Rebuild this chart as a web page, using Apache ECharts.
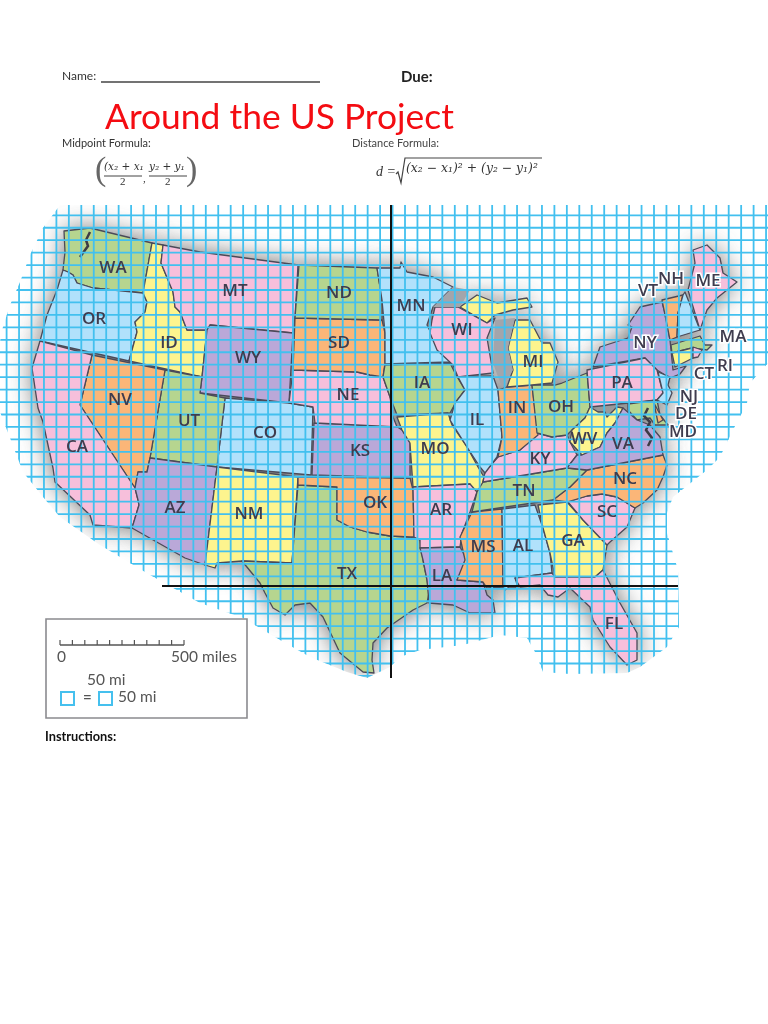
<!DOCTYPE html>
<html>
<head>
<meta charset="utf-8">
<title>Around the US Project</title>
<style>
  html, body { margin: 0; padding: 0; background: #fff; }
  #chart { width: 768px; height: 1024px; }
</style>
<script src="https://cdn.jsdelivr.net/npm/echarts@6/dist/echarts.min.js"></script>
</head>
<body>
<div id="chart"></div>
<script>
'use strict';

// palette of the printed map
var PINK = '#f7bfdb', GREEN = '#b6d58f', BLUE = '#b1e1fb', YELLOW = '#fdf48e', ORANGE = '#fbb678', PURPLE = '#baa8d8';

// state names, fills and label anchors
var stateNames = ['WA','OR','ID','MT','WY','CO','UT','NV','CA','AZ','NM','TX','OK','KS','NE','SD','ND','MN','IA','MO','AR','LA','MS','AL','GA','FL','SC','NC','TN','KY','IL','IN','OH','MI','UP','WI','NY','PA','NJ','VT','NH','ME','MA','CT','RI','MD','DE','WV','VA'];
var stateFills = [GREEN,BLUE,YELLOW,PINK,PURPLE,BLUE,GREEN,ORANGE,PINK,PURPLE,YELLOW,GREEN,ORANGE,PURPLE,PINK,ORANGE,GREEN,BLUE,GREEN,YELLOW,PINK,PURPLE,ORANGE,BLUE,YELLOW,PINK,PINK,ORANGE,GREEN,PINK,BLUE,ORANGE,GREEN,YELLOW,YELLOW,PINK,PURPLE,PINK,BLUE,ORANGE,BLUE,PINK,GREEN,YELLOW,PINK,GREEN,ORANGE,YELLOW,PURPLE];

// outlines, in page pixels
var outlines = {
  WA: [[64,231],[90,228],[152,243],[143,293],[113,290],[93,288],[77,283],[73,275],[68,272],[63,270],[65,252]],
  OR: [[63,270],[68,272],[73,275],[77,283],[93,288],[113,290],[143,293],[147,302],[145,312],[135,322],[137,332],[129,361],[40,341],[47,315],[57,290]],
  ID: [[152,243],[163,245],[161,263],[173,292],[175,307],[180,312],[187,330],[207,330],[202,377],[129,361],[137,332],[135,322],[145,312],[147,302],[143,293]],
  MT: [[163,245],[200,252],[298,265],[295,318],[293,333],[210,325],[207,330],[187,330],[180,312],[175,307],[173,292],[161,263]],
  WY: [[210,325],[293,333],[289,403],[200,393],[202,377],[207,330]],
  CO: [[225,398],[289,403],[313,407],[311,475],[217,467]],
  UT: [[165,370],[202,377],[200,393],[225,398],[217,467],[150,458]],
  NV: [[92,355],[165,370],[150,458],[147,472],[138,472],[135,488],[80,405]],
  CA: [[40,341],[92,355],[80,405],[135,488],[138,500],[139,505],[132,528],[93,525],[90,515],[55,482],[53,468],[43,422],[38,408],[32,368]],
  AZ: [[150,458],[217,467],[205,565],[185,558],[132,528],[139,505],[138,500],[135,488],[138,472],[147,472]],
  NM: [[217,467],[298,477],[292,563],[242,561],[217,563],[215,568],[205,565]],
  TX: [[298,485],[337,487],[337,520],[350,527],[367,532],[390,536],[410,537],[420,540],[423,560],[427,580],[429,593],[427,603],[413,610],[387,628],[373,643],[372,660],[374,673],[363,672],[340,653],[323,617],[310,603],[295,605],[285,615],[273,608],[265,593],[260,583],[242,561],[292,563]],
  OK: [[298,477],[410,478],[413,490],[414,537],[410,537],[390,536],[367,532],[350,527],[337,520],[337,487],[298,485]],
  KS: [[314,423],[396,426],[402,430],[410,443],[410,478],[312,475]],
  NE: [[293,370],[357,372],[370,375],[383,377],[390,397],[393,417],[397,427],[315,423],[313,407],[289,403]],
  SD: [[295,318],[382,320],[385,333],[385,363],[383,377],[370,375],[357,372],[293,370]],
  ND: [[299,265],[377,268],[382,300],[382,320],[295,318]],
  MN: [[377,268],[400,268],[401,262],[407,272],[433,277],[453,287],[433,307],[427,325],[433,337],[447,353],[450,362],[385,364],[385,333],[382,300]],
  IA: [[385,365],[450,363],[456,375],[465,390],[456,402],[450,413],[397,415],[390,397],[383,377]],
  MO: [[397,417],[448,413],[452,425],[467,447],[478,467],[484,477],[481,490],[474,492],[470,484],[413,487],[410,443],[402,430]],
  AR: [[413,487],[470,484],[477,492],[470,512],[462,533],[460,547],[420,548],[420,540],[414,537]],
  LA: [[420,548],[460,547],[467,560],[457,580],[483,582],[487,595],[493,600],[495,613],[470,613],[453,605],[429,603],[427,580],[423,560]],
  MS: [[472,512],[502,509],[503,587],[487,588],[483,582],[457,580],[465,560],[460,537]],
  AL: [[502,509],[535,505],[543,528],[550,553],[552,573],[515,578],[518,587],[509,587],[505,590],[503,587]],
  GA: [[538,505],[567,502],[583,520],[607,545],[603,570],[595,577],[555,577],[550,553],[543,528]],
  FL: [[515,578],[552,573],[555,577],[595,577],[603,570],[620,603],[637,633],[637,660],[627,665],[610,647],[593,620],[590,607],[570,588],[558,597],[548,595],[540,585],[520,587]],
  SC: [[568,502],[587,496],[602,494],[617,497],[635,508],[627,527],[610,542],[607,545],[583,520]],
  NC: [[587,470],[663,455],[667,465],[663,477],[657,490],[643,503],[635,508],[617,497],[602,494],[587,496],[567,502],[553,500],[570,487]],
  TN: [[483,482],[567,468],[587,470],[570,487],[553,500],[472,512],[477,492]],
  KY: [[485,472],[498,457],[520,450],[537,433],[552,437],[567,435],[570,442],[577,455],[567,468],[483,482]],
  IL: [[458,377],[493,376],[498,390],[502,437],[497,457],[485,473],[480,467],[467,447],[450,420],[455,403],[465,390]],
  IN: [[498,390],[507,387],[532,385],[538,435],[520,450],[498,457],[502,437]],
  OH: [[532,385],[555,385],[562,383],[587,373],[590,407],[585,418],[572,430],[567,435],[552,437],[537,433]],
  MI: [[508,348],[515,320],[530,320],[542,343],[550,343],[558,362],[552,383],[532,385],[507,387],[513,370]],
  UP: [[460,307],[477,295],[497,303],[527,298],[532,307],[513,310],[495,315],[487,323]],
  WI: [[432,320],[435,307],[458,307],[487,323],[495,318],[487,338],[493,373],[458,377],[453,365],[437,350],[430,333]],
  NY: [[662,302],[665,313],[670,340],[673,370],[686,366],[680,374],[670,378],[657,370],[645,358],[593,367],[600,347],[628,338],[632,327],[628,325],[640,307]],
  PA: [[587,370],[645,358],[657,370],[663,393],[657,400],[590,407]],
  NJ: [[658,372],[670,377],[668,385],[672,393],[667,405],[657,400],[663,393]],
  VT: [[662,300],[683,295],[678,313],[677,337],[670,340]],
  NH: [[683,295],[685,292],[700,330],[677,337],[678,313]],
  ME: [[693,250],[707,245],[720,258],[723,273],[737,282],[717,298],[707,310],[700,330],[688,290],[695,263]],
  MA: [[671,345],[700,336],[705,345],[712,345],[707,350],[692,348],[672,353]],
  CT: [[672,353],[692,348],[693,358],[675,367]],
  RI: [[693,347],[702,350],[698,357],[693,358]],
  MD: [[628,404],[657,400],[660,415],[668,425],[655,425],[650,418],[637,420],[628,410]],
  DE: [[654,403],[663,420],[658,423]],
  WV: [[590,407],[585,418],[572,430],[570,442],[582,455],[600,447],[607,433],[615,423],[623,408],[617,407],[607,417],[605,412],[598,412]],
  VA: [[567,468],[577,455],[582,455],[600,447],[607,433],[615,423],[623,408],[637,420],[650,425],[660,437],[663,455],[587,470]]
};

var lakeOutlines = [
  [[495,320],[493,363],[502,388],[513,370],[508,348],[515,318]],
  [[433,307],[453,287],[470,290],[460,307]]
];

// coastline squiggles: Puget Sound, Chesapeake Bay
var coastMarks = [
  [[90,232],[86,240],[88,246],[80,257]],
  [[648,408],[644,416],[650,422],[646,430],[652,438],[648,446]]
];

// torn edge of the grid paper
var paperEdge = [[60,205],[768,205],[768,248],[768,363],[750,383],[747,403],[733,430],[720,457],[707,470],[673,497],[667,513],[667,533],[678,570],[679,627],[667,647],[640,667],[627,673],[570,674],[543,672],[535,652],[527,638],[500,635],[463,645],[420,650],[400,657],[390,667],[367,678],[347,672],[310,657],[280,640],[243,618],[200,603],[150,575],[100,545],[60,517],[43,497],[23,472],[10,438],[0,412],[0,342],[2,330],[10,305],[20,282],[30,255],[43,228]];

var labelNames = ['WA','OR','ID','MT','WY','NV','UT','CO','CA','AZ','NM','TX','ND','SD','NE','KS','OK','MN','IA','MO','AR','LA','WI','IL','MI','IN','OH','KY','TN','MS','AL','GA','SC','NC','FL','VA','WV','PA','NY','VT','NH','ME','MA','RI','CT','NJ','DE','MD'];
var labelX = [113,94,169,235,248,120,189,265,77,175,249,347,339,339,348,360,375,411,422,435,441,442,462,477,533,517,561,540,524,483,523,573,607,625,614,623,584,622,645,648,671,708,733,725,704,689,686,683];
var labelY = [268,319,343,291,358,400,421,433,447,508,514,574,293,343,395,451,503,306,383,449,510,576,330,420,362,408,407,459,491,547,546,541,512,479,624,444,439,383,343,291,279,281,337,366,374,397,414,432];

var gridStep = 12.45, gridStartX = 6.6, gridStartY = 215.3;
var gridXs = [], gridYs = [];
for (var gx = gridStartX; gx < 768; gx += gridStep) gridXs.push(gx);
for (var gy = gridStartY; gy < 680; gy += gridStep) gridYs.push(gy);

var axisX = 391, axisY = 586;
var scaleTicks = [0,50,100,150,200,250,300,350,400,450,500];

var chart = echarts.init(document.getElementById('chart'));

function toPts(api, pts) {
  return pts.map(function (p) { return api.coord(p); });
}

function paperClip(api) {
  return { type: 'polygon', shape: { points: toPts(api, paperEdge) } };
}

var labelFont = '"Open Sans", sans-serif';
var gridStyle = { stroke: '#42c0ef', lineWidth: 1.8 };

chart.setOption({
  animation: false,
  backgroundColor: '#fff',
  grid: { left: 0, right: 0, top: 0, bottom: 0 },
  xAxis: { type: 'value', min: 0, max: 768, show: false },
  yAxis: { type: 'value', min: 0, max: 1024, inverse: true, show: false },
  series: [
    // soft shadow under the whole country
    {
      type: 'custom', coordinateSystem: 'cartesian2d', clip: false, silent: true, z: 1,
      data: stateNames,
      renderItem: function (params, api) {
        return {
          type: 'polygon',
          shape: { points: toPts(api, outlines[stateNames[params.dataIndex]]) },
          style: { fill: '#aaa', shadowBlur: 26, shadowColor: 'rgba(70,70,70,0.8)' },
          clipPath: paperClip(api)
        };
      }
    },
    // states
    {
      type: 'custom', coordinateSystem: 'cartesian2d', clip: false, silent: true, z: 2,
      data: stateNames,
      renderItem: function (params, api) {
        return {
          type: 'polygon',
          shape: { points: toPts(api, outlines[stateNames[params.dataIndex]]) },
          style: { fill: stateFills[params.dataIndex], stroke: '#4b4a58', lineWidth: 1.3, lineJoin: 'round' }
        };
      }
    },
    // great lakes
    {
      type: 'custom', coordinateSystem: 'cartesian2d', clip: false, silent: true, z: 3,
      data: lakeOutlines.map(function (l, i) { return i; }),
      renderItem: function (params, api) {
        return {
          type: 'polygon',
          shape: { points: toPts(api, lakeOutlines[params.dataIndex]) },
          style: { fill: '#a3a5ab' }
        };
      }
    },
    {
      type: 'custom', coordinateSystem: 'cartesian2d', clip: false, silent: true, z: 4,
      data: coastMarks.map(function (l, i) { return i; }),
      renderItem: function (params, api) {
        return {
          type: 'polyline',
          shape: { points: toPts(api, coastMarks[params.dataIndex]) },
          style: { fill: 'none', stroke: '#3c3b46', lineWidth: 2.5 }
        };
      }
    },
    // blue grid, cut to the torn paper
    {
      type: 'custom', coordinateSystem: 'cartesian2d', clip: false, silent: true, z: 5,
      data: gridXs,
      renderItem: function (params, api) {
        var a = api.coord([gridXs[params.dataIndex], 205]), b = api.coord([gridXs[params.dataIndex], 680]);
        return {
          type: 'line',
          shape: { x1: a[0], y1: a[1], x2: b[0], y2: b[1] },
          style: gridStyle,
          clipPath: paperClip(api)
        };
      }
    },
    {
      type: 'custom', coordinateSystem: 'cartesian2d', clip: false, silent: true, z: 5,
      data: gridYs,
      renderItem: function (params, api) {
        var a = api.coord([0, gridYs[params.dataIndex]]), b = api.coord([768, gridYs[params.dataIndex]]);
        return {
          type: 'line',
          shape: { x1: a[0], y1: a[1], x2: b[0], y2: b[1] },
          style: gridStyle,
          clipPath: paperClip(api)
        };
      }
    },
    // the two black axes
    {
      type: 'line', coordinateSystem: 'cartesian2d', silent: true, z: 6, symbol: 'none',
      lineStyle: { color: '#111', width: 2 },
      data: [[axisX, 205], [axisX, 678]]
    },
    {
      type: 'line', coordinateSystem: 'cartesian2d', silent: true, z: 6, symbol: 'none',
      lineStyle: { color: '#111', width: 2 },
      data: [[162, axisY], [678, axisY]]
    },
    // state abbreviations
    {
      type: 'custom', coordinateSystem: 'cartesian2d', clip: false, silent: true, z: 7,
      data: labelNames,
      renderItem: function (params, api) {
        var i = params.dataIndex, p = api.coord([labelX[i], labelY[i]]);
        var northeast = labelY[i] < 440 && labelX[i] > 640;
        return {
          type: 'text',
          x: p[0], y: p[1],
          style: {
            text: labelNames[i],
            fill: '#3f3c4e',
            font: '600 17px ' + labelFont,
            align: 'center', verticalAlign: 'middle',
            stroke: northeast ? '#fff' : null,
            lineWidth: northeast ? 3 : 0
          }
        };
      }
    }
  ],
  graphic: [
    { type: 'text', left: 62, top: 70, style: { text: 'Name:', fill: '#333', font: '12px Lato, sans-serif' } },
    { type: 'line', shape: { x1: 101, y1: 82, x2: 320, y2: 82 }, style: { stroke: '#444', lineWidth: 1.6 } },
    { type: 'text', left: 401, top: 70, style: { text: 'Due:', fill: '#222', font: 'bold 15px Lato, sans-serif' } },
    { type: 'text', left: 105, top: 100, style: { text: 'Around the US Project', fill: '#f40c12', font: '35.4px Lato, sans-serif' } },
    { type: 'text', left: 62, top: 138, style: { text: 'Midpoint Formula:', fill: '#333', font: '11px Lato, sans-serif' } },
    { type: 'text', left: 352, top: 138, style: { text: 'Distance Formula:', fill: '#444', font: '11px Lato, sans-serif' } },
    { type: 'text', left: 95, top: 154, style: { text: '(', fill: '#666', font: '34px "Liberation Serif", serif' } },
    { type: 'text', left: 186, top: 154, style: { text: ')', fill: '#666', font: '34px "Liberation Serif", serif' } },
    { type: 'text', left: 104, top: 162, style: { text: '(x\u2082 + x\u2081', fill: '#333', font: 'italic 10.5px "DejaVu Serif", serif' } },
    { type: 'line', shape: { x1: 104, y1: 176, x2: 142, y2: 176 }, style: { stroke: '#444', lineWidth: 1 } },
    { type: 'text', left: 120, top: 177, style: { text: '2', fill: '#333', font: '11px "Liberation Serif", serif' } },
    { type: 'text', left: 143, top: 174, style: { text: ',', fill: '#333', font: '11px "Liberation Serif", serif' } },
    { type: 'text', left: 149, top: 162, style: { text: 'y\u2082 + y\u2081', fill: '#333', font: 'italic 10.5px "DejaVu Serif", serif' } },
    { type: 'line', shape: { x1: 149, y1: 176, x2: 187, y2: 176 }, style: { stroke: '#444', lineWidth: 1 } },
    { type: 'text', left: 165, top: 177, style: { text: '2', fill: '#333', font: '11px "Liberation Serif", serif' } },
    { type: 'text', left: 376, top: 165, style: { text: 'd =', fill: '#333', font: 'italic 14px "Liberation Serif", serif' } },
    { type: 'polyline', shape: { points: [[396, 174], [398, 172], [401, 183], [405, 158], [542, 158]] }, style: { fill: 'none', stroke: '#444', lineWidth: 1.2 } },
    { type: 'text', left: 406, top: 163, style: { text: '(x\u2082 \u2212 x\u2081)\u00b2 + (y\u2082 \u2212 y\u2081)\u00b2', fill: '#333', font: 'italic 12.4px "DejaVu Serif", serif' } },
    // scale box
    { type: 'rect', shape: { x: 46, y: 619, width: 201, height: 99 }, style: { fill: '#fff', stroke: '#8b8b8f', lineWidth: 1.6 }, z: 10 },
    { type: 'line', shape: { x1: 60, y1: 645, x2: 184, y2: 645 }, style: { stroke: '#555', lineWidth: 1.4 }, z: 11 }
  ].concat(scaleTicks.map(function (m) {
    var x = 60 + m * 124 / 500;
    return { type: 'line', shape: { x1: x, y1: 640, x2: x, y2: 645 }, style: { stroke: '#555', lineWidth: 1.2 }, z: 11 };
  })).concat([
    { type: 'text', left: 57, top: 649, style: { text: '0', fill: '#555', font: '15.5px Lato, sans-serif' }, z: 11 },
    { type: 'text', left: 171, top: 649, style: { text: '500 miles', fill: '#555', font: '15.5px Lato, sans-serif' }, z: 11 },
    { type: 'text', left: 87, top: 672, style: { text: '50 mi', fill: '#555', font: '15.5px Lato, sans-serif' }, z: 11 },
    { type: 'rect', shape: { x: 61, y: 692, width: 13, height: 13 }, style: { fill: '#fff', stroke: '#45c0ee', lineWidth: 2 }, z: 11 },
    { type: 'text', left: 83, top: 690, style: { text: '=', fill: '#555', font: 'bold 15px Lato, sans-serif' }, z: 11 },
    { type: 'rect', shape: { x: 99, y: 692, width: 13, height: 13 }, style: { fill: '#fff', stroke: '#45c0ee', lineWidth: 2 }, z: 11 },
    { type: 'text', left: 118, top: 689, style: { text: '50 mi', fill: '#555', font: '15.5px Lato, sans-serif' }, z: 11 },
    { type: 'text', left: 45, top: 730, style: { text: 'Instructions:', fill: '#111', font: 'bold 12.8px Lato, sans-serif' }, z: 11 }
  ])
});
</script>
</body>
</html>
